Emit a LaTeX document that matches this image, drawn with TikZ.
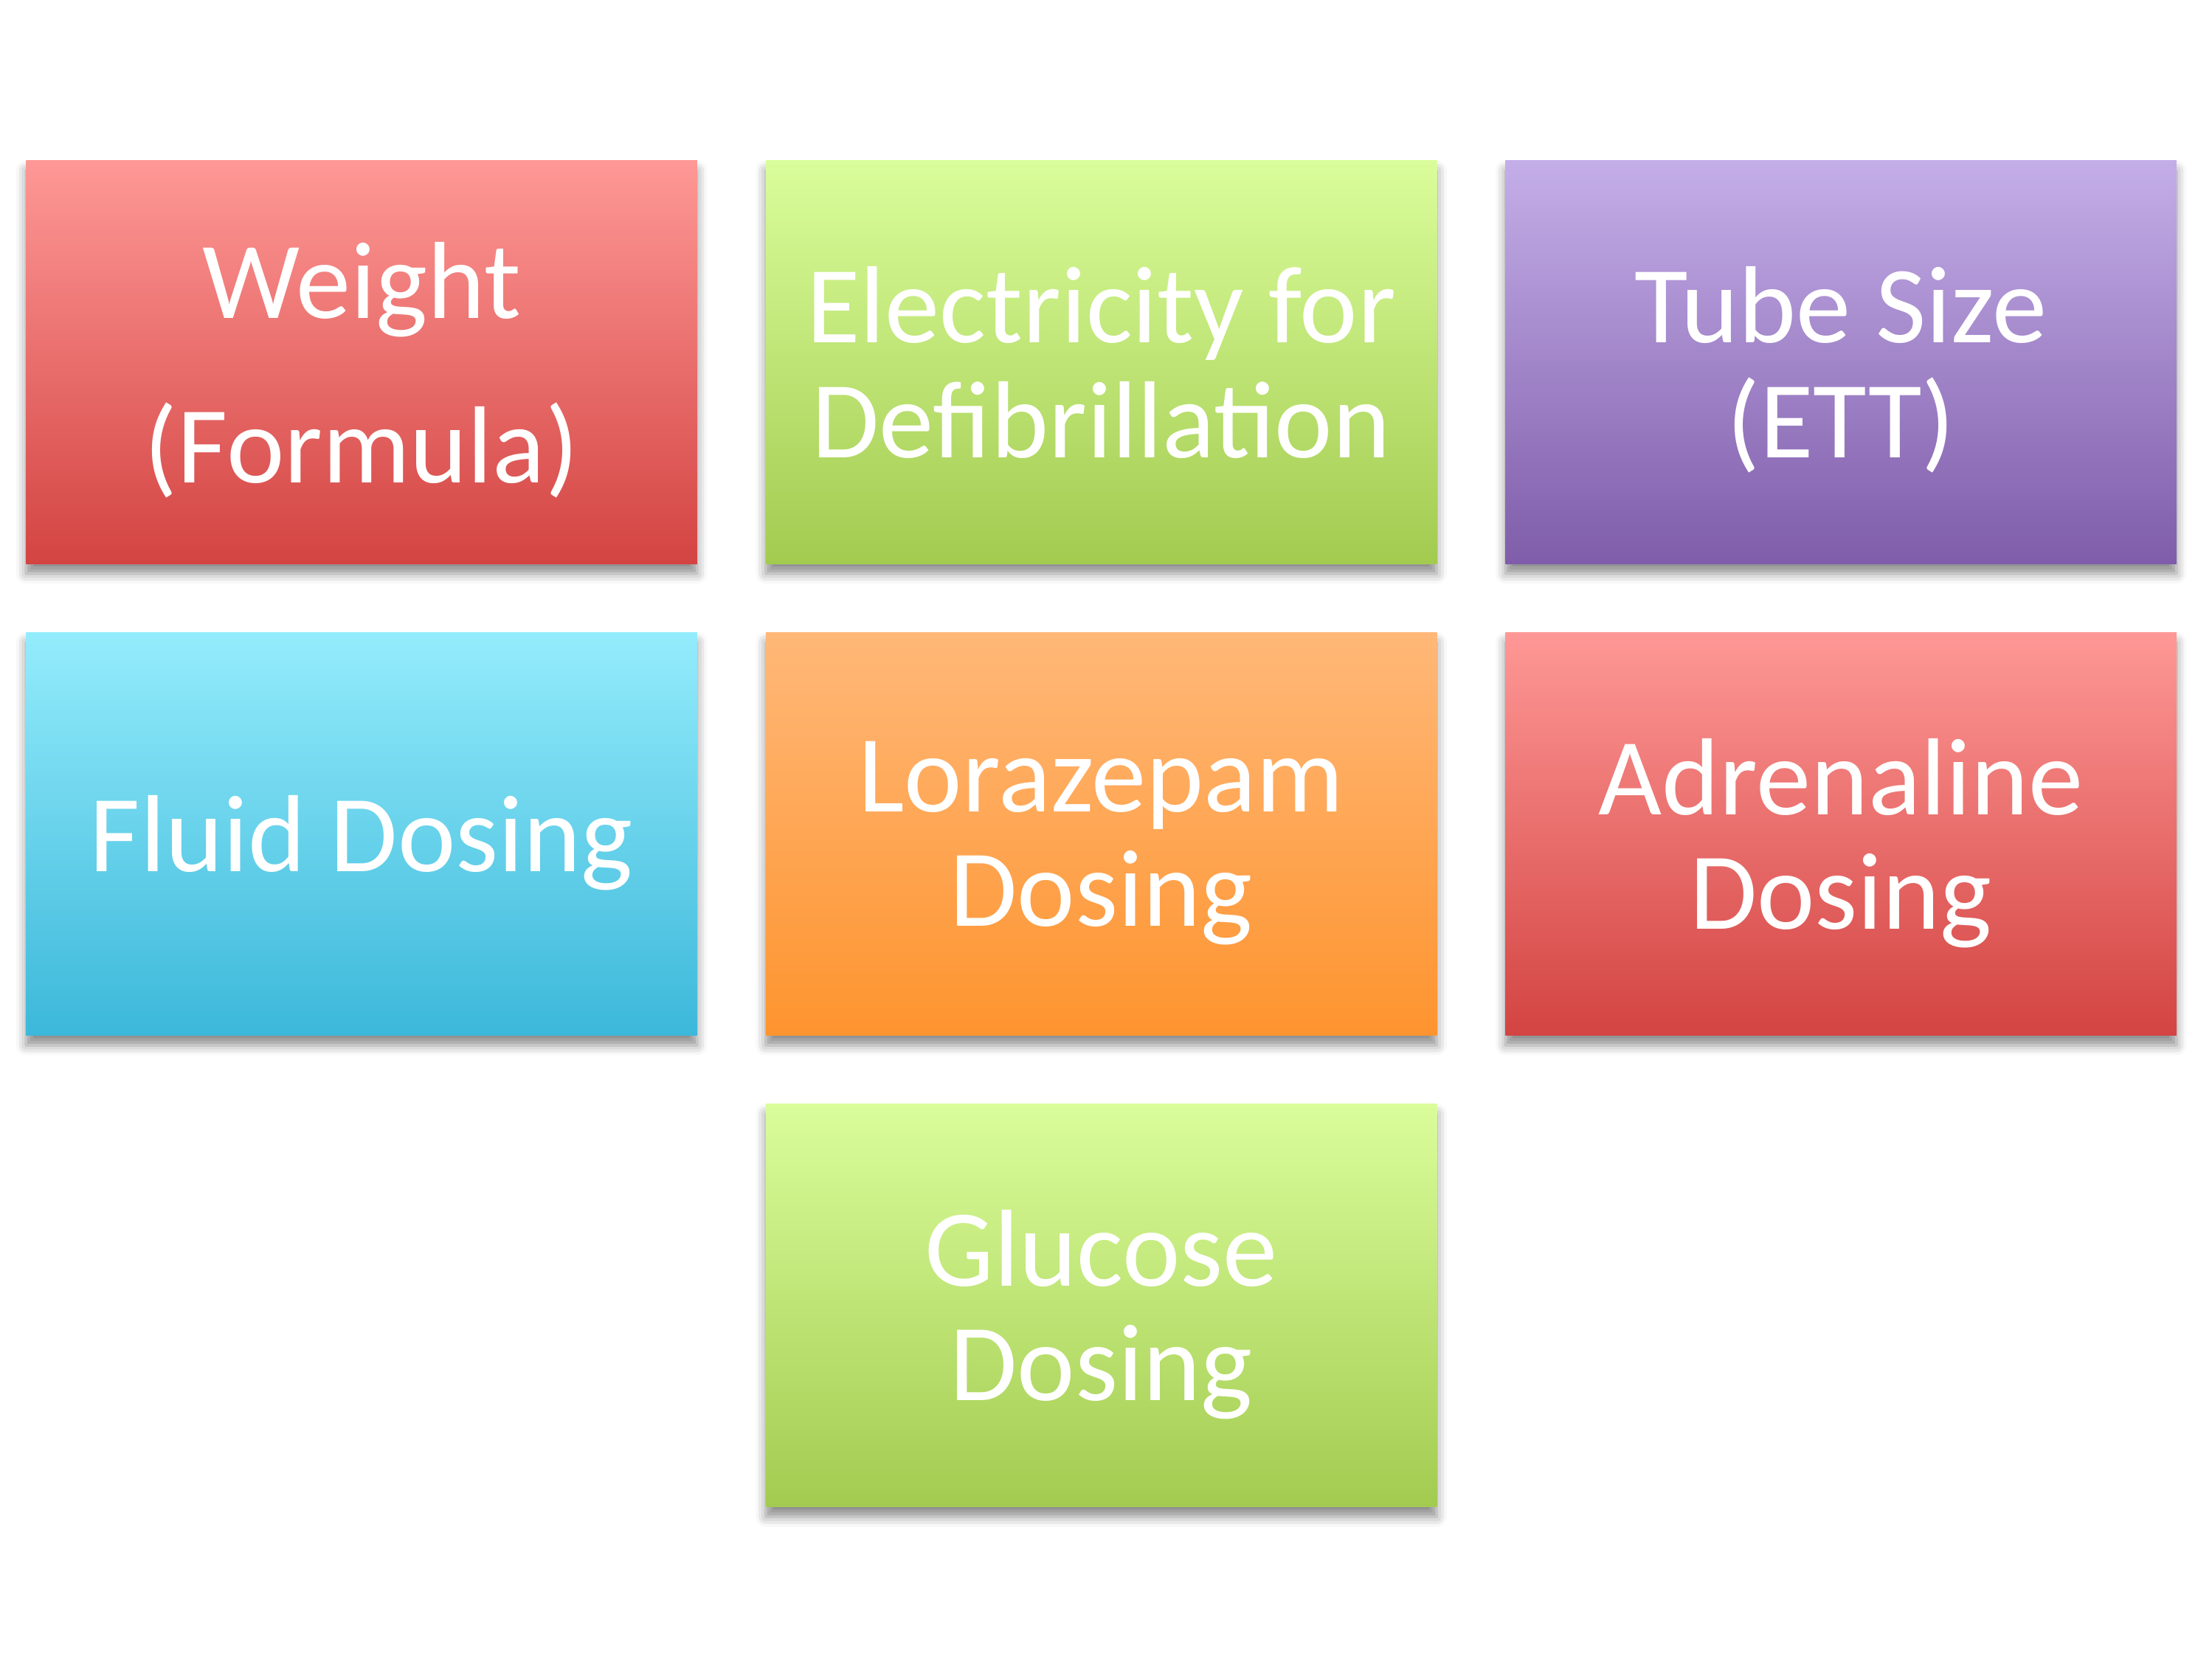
\documentclass[tikz,border=0pt]{standalone}
\usepackage{fontspec}
\setmainfont{Carlito}
\usepackage{tikz}
\usetikzlibrary{shapes,positioning,shadows.blur}
\definecolor{redtop}{HTML}{FE9896}
\definecolor{redbot}{HTML}{D34442}
\definecolor{greentop}{HTML}{DAFD9B}
\definecolor{greenbot}{HTML}{A3CB50}
\definecolor{purpletop}{HTML}{C4AEE8}
\definecolor{purplebot}{HTML}{7F5DAA}
\definecolor{cyantop}{HTML}{94ECFC}
\definecolor{cyanbot}{HTML}{3CB8DA}
\definecolor{orangetop}{HTML}{FFB878}
\definecolor{orangebot}{HTML}{FE942F}
\tikzstyle{box} = [rectangle, minimum width=9.465cm, minimum height=5.685cm, inner sep=0pt, text=white, align=center, text depth=0pt, font=\fontsize{44}{46}\selectfont, blur shadow={shadow xshift=0pt, shadow yshift=-4pt, shadow blur radius=4pt, shadow opacity=45}]
\tikzstyle{redbox} = [box, top color=redtop, bottom color=redbot]
\tikzstyle{greenbox} = [box, top color=greentop, bottom color=greenbot]
\tikzstyle{purplebox} = [box, top color=purpletop, bottom color=purplebot]
\tikzstyle{cyanbox} = [box, top color=cyantop, bottom color=cyanbot]
\tikzstyle{orangebox} = [box, top color=orangetop, bottom color=orangebot]

\begin{document}
\begin{tikzpicture}

\useasboundingbox (0,0) rectangle (31.2,-23.4);

% first row
\node[redbox, anchor=north west] (weight) at (0.36,-2.26) {Weight\\[20pt](Formula)};
\node[greenbox, right=0.954cm of weight] (defib) {Electricity for\\Defibrillation};
\node[purplebox, right=0.954cm of defib] (tube) {Tube Size\\(ETT)};

% second row
\node[cyanbox, below=0.954cm of weight] (fluid) {Fluid Dosing};
\node[orangebox, below=0.954cm of defib] (loraz) {Lorazepam\\Dosing};
\node[redbox, below=0.954cm of tube] (adren) {Adrenaline\\Dosing};

% third row
\node[greenbox, below=0.954cm of loraz] (gluc) {Glucose\\Dosing};

\end{tikzpicture}
\end{document}
